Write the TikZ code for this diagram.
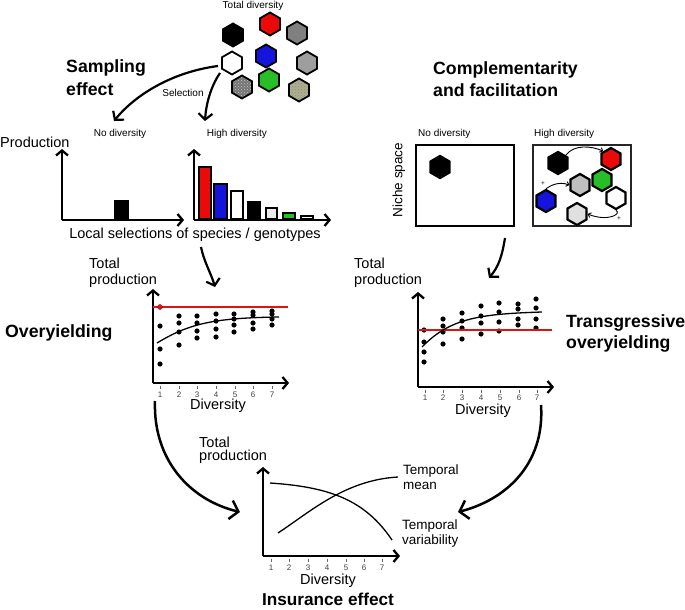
\documentclass[tikz,border=0pt]{standalone}
\usepackage{fontspec}
\setmainfont{Liberation Sans}
\usetikzlibrary{arrows.meta,shapes.geometric,patterns}
\definecolor{myred}{RGB}{235,10,10}
\definecolor{myblue}{RGB}{20,20,220}
\definecolor{mygreen}{RGB}{40,190,40}
\definecolor{mykhaki}{RGB}{175,175,140}
\definecolor{redln}{RGB}{220,20,20}
\begin{document}
\begin{tikzpicture}[x=1pt,y=-1pt,
  hex/.style={regular polygon, regular polygon sides=6, shape border rotate=30, minimum size=23pt, inner sep=0pt, draw=black, line width=1.8pt},
  shex/.style={hex, minimum size=22pt, line width=2.2pt},
  axisline/.style={line width=2.3pt, -{Straight Barb[length=5pt,width=12pt]}},
  bigarrow/.style={line width=2.5pt, -{Straight Barb[length=8pt,width=19pt]}},
  midarrow/.style={line width=2.2pt, -{Straight Barb[length=6pt,width=14pt]}},
  smallarrow/.style={line width=0.9pt, -{Straight Barb[length=2.5pt,width=5pt]}},
  barbox/.style={draw=black, line width=1.8pt},
  fitcurve/.style={line width=1.3pt},
  redline/.style={draw=redln, line width=1.4pt},
  small/.style={font=\fontsize{10}{12}\selectfont, inner sep=0pt},
  tiny/.style={font=\fontsize{8}{9}\selectfont, inner sep=0pt, text=black!75},
  label/.style={font=\fontsize{14.5}{16}\selectfont, inner sep=0pt},
  side/.style={font=\fontsize{13.5}{15}\selectfont, inner sep=0pt, anchor=west},
  title/.style={font=\fontsize{17.7}{20}\selectfont\bfseries, inner sep=0pt, align=left},
]
\useasboundingbox (0,0) rectangle (685,610);
\fill[white] (0,0) rectangle (685,610);

% ---------- Top cluster ----------
\node[small] (totdiv) at (253,6) {Total diversity};
\node[hex, fill=black] (h1) at (233,35) {};
\node[hex, fill=myred] (h2) at (270,24) {};
\node[hex, fill=black!50] (h3) at (297,33) {};
\node[hex, fill=white] (h4) at (232,63) {};
\node[hex, fill=myblue] (h5) at (266,56) {};
\node[hex, fill=black!38] (h6) at (307,63) {};
\node[hex, preaction={fill=black!55}, pattern=crosshatch dots, pattern color=black!20] (h7) at (242,87) {};
\node[hex, fill=mygreen] (h8) at (269,80) {};
\node[hex, preaction={fill=mykhaki}, pattern=crosshatch dots, pattern color=black!45] (h9) at (299,90) {};

% Sampling effect
\node[title, anchor=west] (samp) at (66,68) {Sampling};
\node[title, anchor=west] (eff) at (66,89) {effect};
\coordinate (s1) at (218,66);
\coordinate (s2) at (220,73);
\coordinate (nd) at (114,121);
\coordinate (hd) at (205,121);
\draw[midarrow] (s1) .. controls (172,72) and (135,95) .. (nd);
\draw[midarrow] (s2) .. controls (211,86) and (206,104) .. (hd);
\node[small] (sel) at (183,93) {Selection};
\node[small] (nodiv1) at (120,134) {No diversity};
\node[small] (hidiv1) at (237,134) {High diversity};

% ---------- Bar charts ----------
\node[label, anchor=west] (prod) at (0,142) {Production};
\coordinate (o1) at (62,220);
\draw[axisline] (o1) -- (62,149);
\draw[axisline] (o1) -- (184,220);
\draw[barbox, fill=black] (115,220) rectangle (128,201);

\coordinate (o2) at (194,220);
\draw[axisline] (o2) -- (194,149);
\draw[axisline] (o2) -- (331,220);
\draw[barbox, fill=myred] (199,219) rectangle (211,167);
\draw[barbox, fill=myblue] (214,219) rectangle (227,184);
\draw[barbox, fill=white] (231,219) rectangle (243,191);
\draw[barbox, fill=black] (248,219) rectangle (260,202);
\draw[barbox, fill=black!8] (266,219) rectangle (277,208);
\draw[barbox, fill=mygreen] (283,219) rectangle (295,213);
\draw[barbox, fill=white] (301,219) rectangle (313,216);
\node[label] (lsel) at (195,235) {Local selections of species / genotypes};

% ---------- Complementarity ----------
\node[title, anchor=west] (comp) at (433,70) {Complementarity};
\node[title, anchor=west] (fac) at (433,90) {and facilitation};
\node[small, anchor=west] (nodiv2) at (418,134) {No diversity};
\node[small, anchor=west] (hidiv2) at (534,134) {High diversity};
\node[font=\fontsize{13.5}{15}\selectfont, inner sep=0pt, rotate=90] (niche) at (399,180) {Niche space};
\draw[line width=1.5pt] (416,145) rectangle (514,226);
\node[shex, fill=black] (b0) at (440,167) {};
\draw[line width=2.2pt, draw=black!85] (533,145) rectangle (631,226);
\node[shex, fill=black] (c1) at (558,163) {};
\node[shex, fill=myred] (c2) at (611,159) {};
\node[shex, fill=mygreen] (c3) at (602,180) {};
\node[shex, fill=black!25] (c4) at (580,185) {};
\node[shex, fill=myblue] (c5) at (546,201) {};
\node[shex, fill=white] (c6) at (616,198) {};
\node[shex, fill=black!12] (c7) at (577,214) {};
\draw[smallarrow] (c1.north east) .. controls (574,144) and (592,146) .. (c2.north west);
\draw[smallarrow] (c5.north) .. controls (550,186) and (558,181) .. (c4.west);
\draw[smallarrow] (c6.south) .. controls (622,214) and (608,222) .. (c7.east);
\node[font=\fontsize{6.5}{7}\selectfont, inner sep=0pt] (p1) at (543,184) {+};
\node[font=\fontsize{6.5}{7}\selectfont, inner sep=0pt] (p2) at (619,219) {+};

% connector arrows to scatter plots
\coordinate (la1) at (201,247);
\coordinate (la2) at (215,287);
\draw[midarrow] (la1) .. controls (204,262) and (211,273) .. (la2);
\coordinate (ra1) at (505,238);
\coordinate (ra2) at (489,278);
\draw[midarrow] (ra1) .. controls (502,256) and (499,266) .. (ra2);

% ---------- Left scatter: Overyielding ----------
\node[label, anchor=west] (ltot) at (89,263) {Total};
\node[label, anchor=west] (lprod) at (89,281) {production};
\node[title, anchor=west] (over) at (5,333) {Overyielding};
\coordinate (lo) at (153,383);
\draw[axisline] (lo) -- (153,289);
\draw[axisline] (lo) -- (289,383);
\draw[redline] (153,307) -- (288,307);
\foreach \x [count=\i] in {160,179,197,216,235,253,272} {
  \draw[line width=0.5pt, black!60] (\x,386) -- (\x,389);
  \node[tiny] (lt\i) at (\x,395) {\i};
}
\node[label] (ldiv) at (218,406) {Diversity};
\foreach \x/\ys in {160/{307,326,349,364},179/{316,323,332,345},197/{316,323,331,338},216/{314,321,329,337},234/{314,319,325,332},253/{312,315,323,329},272/{311,314,319,325}} {
  \foreach \y in \ys { \fill (\x,\y) circle (2.6pt); }
}
\fill[redln] (160,307) circle (2.6pt);
\draw[fitcurve] (157,343) .. controls (190,323) and (215,318) .. (279,317);

% ---------- Right scatter: Transgressive ----------
\node[label, anchor=west] (rtot) at (354,263) {Total};
\node[label, anchor=west] (rprod) at (354,281) {production};
\node[title, anchor=west] (trans) at (566,323) {Transgressive};
\node[title, anchor=west] (trans2) at (566,344) {overyielding};
\coordinate (ro) at (418,387);
\draw[axisline] (ro) -- (418,292);
\draw[axisline] (ro) -- (554,387);
\foreach \x [count=\i] in {425,443,462,481,500,519,537} {
  \draw[line width=0.5pt, black!60] (\x,390) -- (\x,393);
  \node[tiny] (rt\i) at (\x,398) {\i};
}
\node[label] (rdiv) at (483,411) {Diversity};
\foreach \x/\ys in {424/{330,342,352,362},443/{319,326,332,344},462/{313,321,328,339},481/{306,316,323,334},499/{303,312,322,331},518/{304,309,319,325},536/{299,308,319,328}} {
  \foreach \y in \ys { \fill (\x,\y) circle (2.6pt); }
}
\draw[redline] (418,330) -- (552,330);
\draw[fitcurve] (422,347) .. controls (450,318) and (480,314) .. (542,312);

% ---------- big arrows to insurance ----------
\coordinate (ba1) at (155,401);
\coordinate (ba2) at (240,512);
\draw[bigarrow] (ba1) .. controls (153,460) and (190,500) .. (ba2);
\coordinate (bb1) at (541,405);
\coordinate (bb2) at (458,512);
\draw[bigarrow] (bb1) .. controls (545,465) and (505,500) .. (bb2);

% ---------- Bottom: Insurance effect ----------
\node[label, anchor=west] (btot) at (199,442) {Total};
\node[label, anchor=west] (bprod) at (199,457) {production};
\coordinate (bo) at (263,556);
\draw[axisline] (bo) -- (263,467);
\draw[axisline] (bo) -- (400,556);
\foreach \x [count=\i] in {271,289,308,327,346,364,382} {
  \draw[line width=0.5pt, black!60] (\x,559) -- (\x,562);
  \node[tiny] (bt\i) at (\x,568) {\i};
}
\node[label] (bdiv) at (328,581) {Diversity};
\node[title, font=\fontsize{17.2}{20}\selectfont\bfseries] (ins) at (328,599.5) {Insurance effect};
\draw[fitcurve] (278,533) .. controls (310,512) and (345,480) .. (398,477);
\draw[fitcurve] (270,483) .. controls (330,487) and (365,500) .. (392,540);
\node[side] (tm1) at (403,471) {Temporal};
\node[side] (tm2) at (403,486) {mean};
\node[side] (tv1) at (402,526) {Temporal};
\node[side] (tv2) at (402,541) {variability};
\end{tikzpicture}
\end{document}
